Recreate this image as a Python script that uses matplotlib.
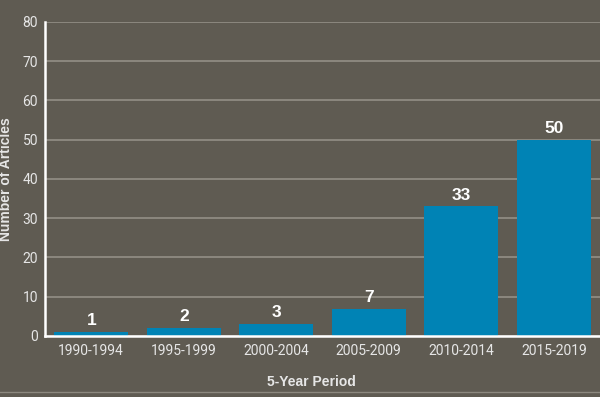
import matplotlib.pyplot as plt
import numpy as np

periods = ["1990-1994", "1995-1999", "2000-2004", "2005-2009", "2010-2014", "2015-2019"]
articles = [1, 2, 3, 7, 33, 50]
yticks = [0, 10, 20, 30, 40, 50, 60, 70, 80]

bg = "#5f5b52"
bar_color = "#0083b5"
text_color = "#e6e6e6"

fig = plt.figure(figsize=(6, 3.97), dpi=100, facecolor=bg)
ax = fig.add_axes([0.075, 0.1537, 0.925, 0.7909], facecolor=bg)

x = np.arange(len(periods))
ax.bar(x, articles, width=0.8, color=bar_color, zorder=3)
for xi, v in zip(x, articles):
    ax.text(xi, v + 1.0, str(v), ha="center", va="bottom", color="white",
            fontsize=12.5, fontweight="bold", family="Liberation Sans", zorder=4)

ax.set_xlim(-0.5, len(periods) - 0.5)
ax.set_ylim(0, 80)
ax.set_yticks(yticks)
ax.set_xticks(x)
ax.set_xticklabels(periods)
ax.yaxis.grid(True, color="#8c887f", linewidth=1.4, zorder=0)
ax.set_axisbelow(True)

for s in ["top", "right"]:
    ax.spines[s].set_visible(False)
for s in ["left", "bottom"]:
    ax.spines[s].set_color("white")
    ax.spines[s].set_linewidth(1.8)
ax.spines["bottom"].set_zorder(5)

ax.tick_params(axis="both", length=0, colors=text_color, labelsize=10)
ax.tick_params(axis="x", pad=6)
ax.tick_params(axis="y", pad=5)
for lab in ax.get_xticklabels() + ax.get_yticklabels():
    lab.set_family("Roboto")

ax.set_xlabel("5-Year Period", color=text_color, fontsize=10, fontweight="bold",
              family="Liberation Sans")
ax.set_ylabel("Number of Articles", color=text_color, fontsize=10, fontweight="bold",
              family="Liberation Sans")
ax.xaxis.set_label_coords(0.48, -0.125)
ax.yaxis.set_label_coords(-0.058, 0.5)

fig.add_artist(plt.Line2D([0, 1], [0.013, 0.013], transform=fig.transFigure,
                          color="#8c887f", linewidth=1))

fig.savefig("out.png", dpi=100, facecolor=bg)
